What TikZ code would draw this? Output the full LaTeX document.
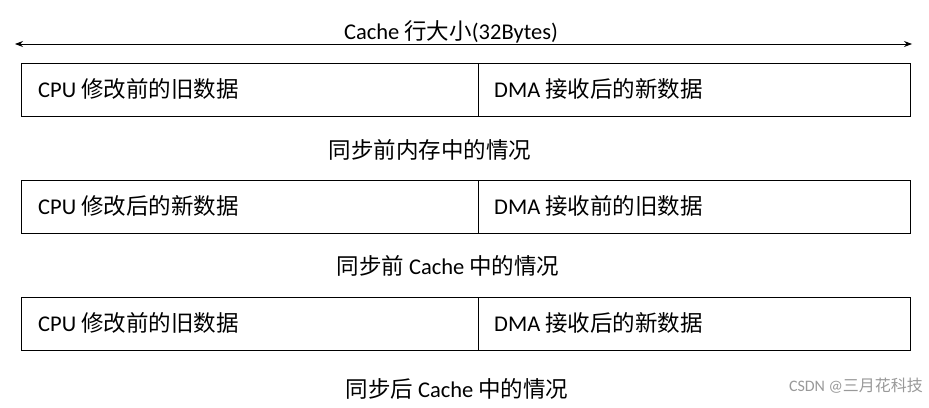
\documentclass[tikz,border=0pt]{standalone}
\usepackage{fontspec}
\usetikzlibrary{arrows.meta}
\setmainfont{Carlito}
\newfontfamily\cjk{Noto Sans CJK SC}
\newcommand{\zh}[1]{{\cjk #1}}
\begin{document}
\begin{tikzpicture}[x=1pt,y=-1pt,font=\fontsize{22.5}{26}\selectfont,
  cell/.style={draw,line width=1.2pt,minimum height=53pt,anchor=north west,inner sep=0pt},
  lbl/.style={anchor=west,inner sep=0pt},
  captxt/.style={inner sep=0pt}]
\useasboundingbox (0,0) rectangle (929,407);
\coordinate (aL) at (15,44); \coordinate (aR) at (912,44);
\draw[{Stealth[length=8pt,width=6pt]}-{Stealth[length=8pt,width=6pt]},line width=0.8pt] (aL) -- (aR);
\node[captxt] (t) at (451,32) {Cache \zh{行大小}(32Bytes)};
% row 1
\node[cell,minimum width=457pt] (l1) at (21,63) {};
\node[cell,minimum width=432pt] (r1) at (478,63) {};
\node[lbl] (l1t) at (38,89) {CPU \zh{修改前的旧数据}};
\node[lbl] (r1t) at (494,89) {DMA \zh{接收后的新数据}};
\node[captxt] (c1) at (430,150) {\zh{同步前内存中的情况}};
% row 2
\node[cell,minimum width=457pt] (l2) at (21,180) {};
\node[cell,minimum width=432pt] (r2) at (478,180) {};
\node[lbl] (l2t) at (38,206) {CPU \zh{修改后的新数据}};
\node[lbl] (r2t) at (494,206) {DMA \zh{接收前的旧数据}};
\node[captxt] (c2) at (448,266) {\zh{同步前} Cache \zh{中的情况}};
% row 3
\node[cell,minimum width=457pt] (l3) at (21,297) {};
\node[cell,minimum width=432pt] (r3) at (478,297) {};
\node[lbl] (l3t) at (38,323) {CPU \zh{修改前的旧数据}};
\node[lbl] (r3t) at (494,323) {DMA \zh{接收后的新数据}};
\node[captxt] (c3) at (457,389) {\zh{同步后} Cache \zh{中的情况}};
\node[captxt,text=gray!80,font=\fontsize{16}{18}\selectfont] (wm) at (856,386) {CSDN @\zh{三月花科技}};
\end{tikzpicture}
\end{document}
